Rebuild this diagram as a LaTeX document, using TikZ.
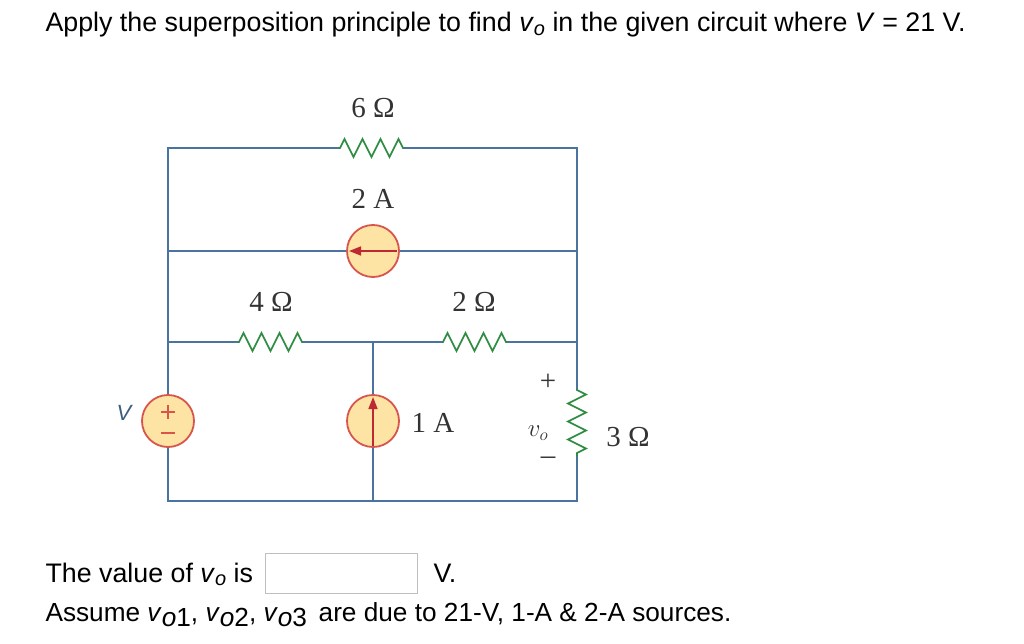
\documentclass[tikz,border=0pt]{standalone}
\usepackage{fontspec}
\setmainfont{Liberation Sans}
\newfontfamily\serif{Liberation Serif}
\usetikzlibrary{decorations.pathmorphing,arrows.meta}
\definecolor{wire}{RGB}{75,115,160}
\definecolor{resc}{RGB}{45,140,65}
\definecolor{srcfill}{RGB}{253,228,165}
\definecolor{srcedge}{RGB}{215,85,75}
\definecolor{arr}{RGB}{190,40,50}
\begin{document}
\begin{tikzpicture}[x=1pt,y=-1pt,
  w/.style={draw=wire,line width=1.6pt},
  res/.style={draw=resc,line width=1.6pt,decorate,decoration={zigzag,segment length=18pt,amplitude=9pt,pre length=1pt,post length=1pt}},
  src/.style={circle,draw=srcedge,fill=srcfill,line width=1.8pt,minimum size=52pt,inner sep=0pt},
  lbl/.style={font=\serif\fontsize{29}{30}\selectfont,text=black!80},
  txt/.style={font=\fontsize{26.8}{28}\selectfont,anchor=base west}]
\useasboundingbox (0,0) rectangle (1024,644);
% coordinates
\coordinate (TL) at (168,148); \coordinate (TR) at (577,148);
\coordinate (ML) at (168,251); \coordinate (MR) at (577,251);
\coordinate (LL) at (168,342); \coordinate (LM) at (373,342); \coordinate (LR) at (577,342);
\coordinate (BL) at (168,501); \coordinate (BM) at (373,501); \coordinate (BR) at (577,501);
\coordinate (r6a) at (339,148); \coordinate (r6b) at (404,148);
\coordinate (r4a) at (238,342); \coordinate (r4b) at (303,342);
\coordinate (r2a) at (442,342); \coordinate (r2b) at (507,342);
\coordinate (r3a) at (577,389); \coordinate (r3b) at (577,456);
% wires
\draw[w] (r6a) -- (TL) -- (BL) -- (BR) -- (r3b);
\draw[w] (r6b) -- (TR) -- (r3a);
\draw[w] (ML) -- (MR);
\draw[w] (LL) -- (r4a); \draw[w] (r4b) -- (r2a); \draw[w] (r2b) -- (LR);
\draw[w] (LM) -- (BM);
% resistors
\draw[res] (r6a) -- (r6b);
\draw[res] (r4a) -- (r4b);
\draw[res] (r2a) -- (r2b);
\draw[res] (r3a) -- (r3b);
% sources
\node[src] (Vs) at (168,421) {};
\draw[srcedge,line width=1.6pt] (161,412) -- (175,412) (168,405) -- (168,419) (161,433) -- (175,433);
\node[src] (I1) at (373,421) {};
\draw[arr,line width=1.6pt,-{Triangle[length=12pt,width=9pt]}] (373,446) -- (373,397);
\node[src] (I2) at (373,251) {};
\draw[arr,line width=1.6pt,-{Triangle[length=12pt,width=9pt]}] (397,251) -- (349,251);
% labels
\node[lbl] (l6) at (373,108) {6 Ω};
\node[lbl] (l2a) at (373,199) {2 A};
\node[lbl] (l4) at (271,302) {4 Ω};
\node[lbl] (l2) at (474,302) {2 Ω};
\node[lbl] (l1a) at (433,423) {1 A};
\node[lbl] (l3) at (628,437) {3 Ω};
\node[lbl,font=\fontsize{27}{28}\selectfont] (lvo) at (538,433) {$v_o$};
\node[lbl] (lp) at (548,382) {+};
\node[lbl] (lm) at (548,461) {\textendash};
\node[font=\fontsize{22}{24}\selectfont\itshape,text=wire!80!black] (lV) at (124,413) {V};
% texts
\node[txt] (t1) at (42,32) {Apply the superposition principle to find \textit{v}\raisebox{-0.25ex}{\fontsize{20}{20}\selectfont\textit{o}} in the given circuit where \textit{V} = 21 V.};
\node[txt] (t2) at (42,582) {The value of \textit{v}\raisebox{-0.25ex}{\fontsize{20}{20}\selectfont\textit{o}} is};
\node[draw=black!25,line width=0.8pt,minimum width=152pt,minimum height=40pt,inner sep=0pt] (box) at (341,573) {};
\node[txt] (t3) at (430,582) {V.};
\node[txt,font=\fontsize{26.2}{28}\selectfont] (t4) at (42,621) {Assume \textit{v}\raisebox{-0.4ex}{\textit{o}1}, \textit{v}\raisebox{-0.4ex}{\textit{o}2}, \textit{v}\raisebox{-0.4ex}{\textit{o}3}\, are due to 21-V, 1-A \& 2-A sources.};
\end{tikzpicture}
\end{document}
